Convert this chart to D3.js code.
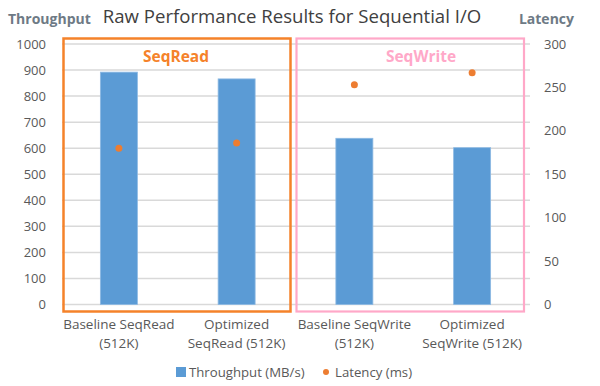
<!DOCTYPE html>
<html><head><meta charset="utf-8">
<script src="https://cdn.jsdelivr.net/npm/d3@7"></script>
<style>body{margin:0;background:#fff}svg{display:block}text{font-family:"Open Sans",sans-serif}</style>
</head><body><svg id="c" width="600" height="386"></svg>
<script>
const categories = [["Baseline SeqRead","(512K)"],["Optimized","SeqRead (512K)"],["Baseline SeqWrite","(512K)"],["Optimized","SeqWrite (512K)"]];
const throughput = [892, 866, 638, 602];
const latency = [180, 186, 253, 267];
const leftTicks = [0,100,200,300,400,500,600,700,800,900,1000];
const rightTicks = [0,50,100,150,200,250,300];
const groups = [{name:"SeqRead", idx:[0,1], color:"#F5822A"},{name:"SeqWrite", idx:[2,3], color:"#FFA8C8"}];

const svg = d3.select("#c");
const x = d3.scaleBand().domain(d3.range(categories.length)).range([60,531]);
const yL = d3.scaleLinear().domain([0,1000]).range([304.5,44]);
const yR = d3.scaleLinear().domain([0,300]).range([304.5,44]);
const txt = "#595959";

// gridlines
svg.append("g").selectAll("line").data(leftTicks).join("line")
  .attr("x1",62).attr("x2",530).attr("y1",d=>yL(d)).attr("y2",d=>yL(d))
  .attr("stroke","#D9D9D9").attr("stroke-width",1.5);

// left axis labels
svg.append("g").selectAll("text").data(leftTicks).join("text")
  .attr("x",46).attr("y",d=>yL(d)).attr("dy","0.35em").attr("text-anchor","end")
  .attr("font-size",13).attr("fill",txt).text(d=>d);
// right axis labels
svg.append("g").selectAll("text").data(rightTicks).join("text")
  .attr("x",544).attr("y",d=>yR(d)).attr("dy","0.35em").attr("text-anchor","start")
  .attr("font-size",13).attr("fill",txt).text(d=>d);

// bars
const bw = 37;
svg.append("g").selectAll("rect").data(throughput).join("rect")
  .attr("x",(d,i)=>x(i)+x.bandwidth()/2-bw/2).attr("width",bw)
  .attr("y",d=>yL(d)).attr("height",d=>yL(0)-yL(d))
  .attr("fill","#5B9BD5").attr("stroke","#8DB9E3").attr("stroke-width",0.8);

// latency points
svg.append("g").selectAll("circle").data(latency).join("circle")
  .attr("cx",(d,i)=>x(i)+x.bandwidth()/2).attr("cy",d=>yR(d)).attr("r",3.5)
  .attr("fill","#ED7D31");

// group boxes
groups.forEach((g,k)=>{
  const x0 = k===0 ? 63.5 : 296.5;
  const x1 = k===0 ? 290.5 : 524;
  svg.append("rect").attr("x",x0).attr("y",38.5).attr("width",x1-x0).attr("height",273)
    .attr("fill","none").attr("stroke",g.color).attr("stroke-width",k===0?2.5:2.2);
  svg.append("text").attr("x",k===0?176:421).attr("y",62).attr("text-anchor","middle")
    .attr("font-size",15.5).attr("font-weight","bold").attr("fill",g.color).text(g.name);
});

// x labels
const xl = svg.append("g").selectAll("text").data(categories).join("text")
  .attr("x",(d,i)=>x(i)+x.bandwidth()/2).attr("text-anchor","middle")
  .attr("font-size",13.5).attr("fill",txt);
xl.each(function(d){
  const t=d3.select(this);
  d.forEach((s,j)=>t.append("tspan").attr("x",t.attr("x")).attr("y",329+j*19).text(s));
});

// title and axis titles
svg.append("text").attr("x",292).attr("y",23).attr("text-anchor","middle")
  .attr("font-size",18.6).attr("fill","#404040").text("Raw Performance Results for Sequential I/O");
svg.append("text").attr("x",8).attr("y",24).attr("font-size",14).attr("font-weight","bold")
  .attr("fill","#6E7A85").text("Throughput");
svg.append("text").attr("x",574).attr("y",24).attr("text-anchor","end").attr("font-size",14).attr("font-weight","bold")
  .attr("fill","#6E7A85").text("Latency");

// legend
svg.append("rect").attr("x",176).attr("y",367).attr("width",10).attr("height",10).attr("fill","#5B9BD5");
svg.append("text").attr("x",189).attr("y",377).attr("font-size",13.2).attr("fill",txt).text("Throughput (MB/s)");
svg.append("circle").attr("cx",326).attr("cy",372).attr("r",3).attr("fill","#ED7D31");
svg.append("text").attr("x",335).attr("y",377).attr("font-size",13.2).attr("fill",txt).text("Latency (ms)");
</script></body></html>
